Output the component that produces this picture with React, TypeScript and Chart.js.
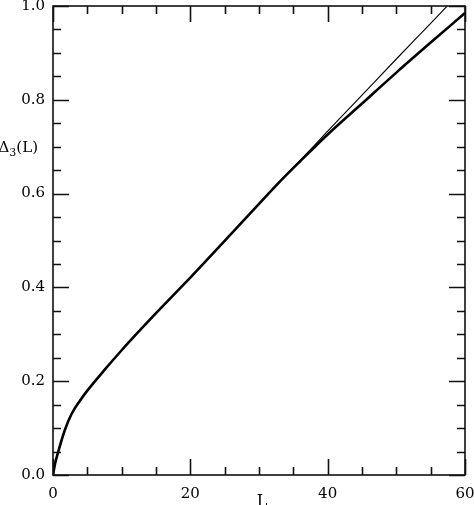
import React, { useEffect, useRef } from "react";
import { Chart, registerables } from "chart.js";

Chart.register(...registerables);

// Shared low-L part of both curves
const sharedL = [0, 0.3, 0.75, 1.7, 2.7, 3.9, 5, 7.5, 10, 12.5, 15, 20, 25, 30, 33];
const sharedD = [0, 0.024, 0.049, 0.095, 0.13, 0.158, 0.18, 0.224, 0.266, 0.306, 0.345, 0.421, 0.499, 0.578, 0.625];

// Upper thin curve continuation
const thinL = [36, 40, 45, 50, 55, 57.4];
const thinD = [0.671, 0.733, 0.81, 0.887, 0.963, 1.0];

// Lower thick curve continuation
const thickL = [36, 40, 45, 50, 55, 60];
const thickD = [0.669, 0.726, 0.792, 0.858, 0.922, 0.985];

const xTicks = [0, 20, 40, 60];
const yTicks = [0, 0.2, 0.4, 0.6, 0.8, 1.0];
const xMinorStep = 5;
const yMinorStep = 0.05;

const FONT = "'DejaVu Serif', serif";

function pts(ls: number[], ds: number[]) {
  return ls.map((l, i) => ({ x: l, y: ds[i] }));
}

const framePlugin = {
  id: "frameTicks",
  afterDraw(chart: any) {
    const { ctx, chartArea } = chart;
    const { left, right, top, bottom } = chartArea;
    const xs = chart.scales.x;
    const ys = chart.scales.y;
    ctx.save();
    ctx.strokeStyle = "#111";
    ctx.lineWidth = 1.6;
    ctx.strokeRect(left, top, right - left, bottom - top);
    const major = 16;
    const minor = 8;
    ctx.beginPath();
    for (let v = xs.min; v <= xs.max + 1e-9; v += xMinorStep) {
      const isMajor = xTicks.some((t) => Math.abs(t - v) < 1e-6);
      const len = isMajor ? major : minor;
      const px = Math.round(xs.getPixelForValue(v)) + 0.5;
      ctx.moveTo(px, bottom);
      ctx.lineTo(px, bottom - len);
      ctx.moveTo(px, top);
      ctx.lineTo(px, top + len);
    }
    for (let v = ys.min; v <= ys.max + 1e-9; v += yMinorStep) {
      const isMajor = yTicks.some((t) => Math.abs(t - v) < 1e-6);
      const len = isMajor ? major : minor;
      const py = Math.round(ys.getPixelForValue(v)) + 0.5;
      ctx.moveTo(left, py);
      ctx.lineTo(left + len, py);
      ctx.moveTo(right, py);
      ctx.lineTo(right - len, py);
    }
    ctx.stroke();

    // Axis titles
    ctx.fillStyle = "#000";
    ctx.textBaseline = "alphabetic";
    // x title "L"
    ctx.font = `16px ${FONT}`;
    ctx.textAlign = "center";
    ctx.fillText("L", (left + right) / 2 + 3, bottom + 31);
    // y title "Δ3(L)"
    const baseY = top + 146;
    ctx.textAlign = "left";
    ctx.font = `15px ${FONT}`;
    const wDelta = ctx.measureText("\u0394").width;
    const wParen = ctx.measureText("(L)").width;
    ctx.font = `11px ${FONT}`;
    const wSub = ctx.measureText("3").width;
    const endX = left - 15;
    let x = endX - wParen - wSub - wDelta;
    ctx.font = `15px ${FONT}`;
    ctx.fillText("\u0394", x, baseY);
    x += wDelta;
    ctx.font = `11px ${FONT}`;
    ctx.fillText("3", x, baseY + 4);
    x += wSub;
    ctx.font = `15px ${FONT}`;
    ctx.fillText("(L)", x, baseY);
    ctx.restore();
  },
};

export default function App() {
  const ref = useRef<HTMLCanvasElement>(null);
  useEffect(() => {
    if (!ref.current) return;
    const chart = new Chart(ref.current, {
      type: "scatter",
      data: {
        datasets: [
          {
            data: pts([...sharedL, ...thinL], [...sharedD, ...thinD]),
            showLine: true,
            borderColor: "#000",
            borderWidth: 1.1,
            pointRadius: 0,
            cubicInterpolationMode: "monotone",
          },
          {
            data: pts([...sharedL, ...thickL], [...sharedD, ...thickD]),
            showLine: true,
            borderColor: "#000",
            borderWidth: 2.6,
            pointRadius: 0,
            cubicInterpolationMode: "monotone",
          },
        ],
      },
      options: {
        animation: false,
        responsive: false,
        layout: { padding: { top: 6, right: 9, left: 0, bottom: 0 } },
        plugins: { legend: { display: false }, tooltip: { enabled: false } },
        scales: {
          x: {
            type: "linear",
            min: 0,
            max: 60,
            grid: { display: false, drawTicks: false },
            border: { display: false },
            afterBuildTicks: (s: any) => {
              s.ticks = xTicks.map((v) => ({ value: v }));
            },
            afterFit: (s: any) => {
              s.height = 30;
              s.paddingLeft = 0;
              s.paddingRight = 0;
            },
            ticks: {
              autoSkip: false,
              maxRotation: 0,
              padding: 10,
              color: "#000",
              font: { family: FONT, size: 15 },
              callback: (v: any) => String(v),
            },
          },
          y: {
            type: "linear",
            min: 0,
            max: 1,
            grid: { display: false, drawTicks: false },
            border: { display: false },
            afterBuildTicks: (s: any) => {
              s.ticks = yTicks.map((v) => ({ value: v }));
            },
            afterFit: (s: any) => {
              s.width = 53;
              s.paddingTop = 0;
              s.paddingBottom = 0;
            },
            ticks: {
              autoSkip: false,
              padding: 8,
              color: "#000",
              font: { family: FONT, size: 15 },
              callback: (v: any) => Number(v).toFixed(1),
            },
          },
        },
      },
      plugins: [framePlugin],
    });
    return () => chart.destroy();
  }, []);
  return (
    <div
      style={{
        position: "absolute",
        left: 0,
        top: 0,
        width: 474,
        height: 505,
        overflow: "hidden",
        background: "#fff",
      }}
    >
      <canvas ref={ref} width={474} height={505} style={{ display: "block" }} />
    </div>
  );
}
